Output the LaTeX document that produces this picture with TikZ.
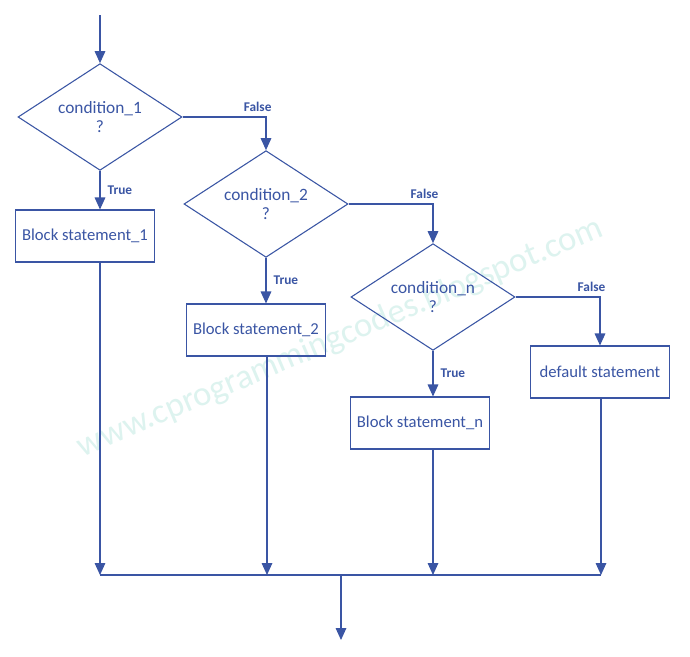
\documentclass[tikz,border=0pt]{standalone}
\usepackage{fontspec}
\setmainfont{Carlito}
\usetikzlibrary{shapes.geometric,arrows.meta}
\definecolor{fc}{HTML}{3A55A4}
\definecolor{wm}{HTML}{DDF3EF}
\begin{document}
\begin{tikzpicture}[x=0.75pt,y=-0.75pt,
  cond/.style={diamond,draw=fc,thick,inner sep=0pt,aspect=1.53,minimum width=123pt,minimum height=80pt,align=center,font=\fontsize{13}{14}\selectfont,text=fc},
  blk/.style={rectangle,draw=fc,thick,inner sep=0pt,minimum width=104pt,minimum height=39pt,font=\fontsize{12.5}{14}\selectfont,text=fc},
  ln/.style={draw=fc,thick},
  arr/.style={ln,-{Triangle[length=9pt,width=8pt]}},
  lab/.style={font=\fontsize{10}{11}\selectfont\bfseries,text=fc}]
\useasboundingbox[fill=white] (0,0) rectangle (690,657);
\node[rotate=23,text=wm,font=\fontsize{26}{28}\selectfont] (wmk) at (340,338) {www.cprogrammingcodes.blogspot.com};
\node[cond] (d1) at (100,117) {condition\_1\\?};
\node[cond] (d2) at (266,204) {condition\_2\\?};
\node[cond] (d3) at (433,297) {condition\_n\\?};
\node[blk] (b1) at (85,236) {Block statement\_1};
\node[blk] (b2) at (256,330) {Block statement\_2};
\node[blk] (b3) at (420,423) {Block statement\_n};
\node[blk] (b4) at (600,372) {default statement};
\coordinate (top) at (100,15);
\coordinate (j1) at (100,575); \coordinate (j2) at (267,575);
\coordinate (j3) at (433,575); \coordinate (j4) at (601,575);
\coordinate (m) at (341,575); \coordinate (out) at (341,640);
\draw[arr] (top) -- (d1.north);
\draw[arr] (d1.east) -| (d2.north) node[lab,pos=0.45,above] {False};
\draw[arr] (d2.east) -| (d3.north) node[lab,pos=0.45,above] {False};
\draw[arr] (d3.east) -| (b4.north) node[lab,pos=0.45,above] {False};
\draw[arr] (d1.south) -- (b1.north -| d1.south) node[lab,midway,right=2pt] {True};
\draw[arr] (d2.south) -- (b2.north -| d2.south) node[lab,midway,right=2pt] {True};
\draw[arr] (d3.south) -- (b3.north -| d3.south) node[lab,midway,right=2pt] {True};
\draw[arr] (b1.south -| j1) -- (j1);
\draw[arr] (b2.south -| j2) -- (j2);
\draw[arr] (b3.south -| j3) -- (j3);
\draw[arr] (b4.south -| j4) -- (j4);
\draw[ln] (j1) -- (j4);
\draw[arr] (m) -- (out);
\end{tikzpicture}
\end{document}
